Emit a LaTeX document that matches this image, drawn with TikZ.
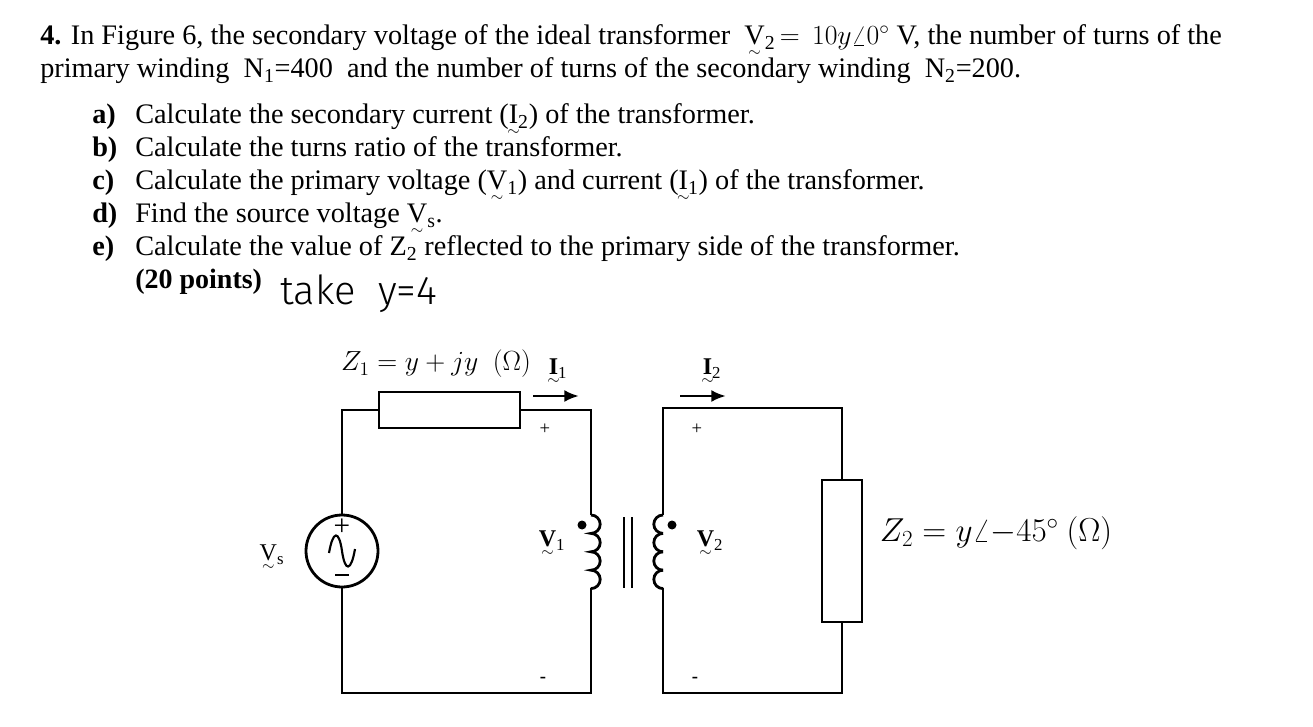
\documentclass[tikz,border=0pt]{standalone}
\usepackage{amsmath}
\usepackage{fontspec}
\usetikzlibrary{arrows.meta}
\setmainfont{Liberation Serif}
\newfontfamily\hand{Fira Sans Light}
\newcommand{\ut}[1]{\setbox0\hbox{#1}\leavevmode\rlap{\hbox to\wd0{\hss\raisebox{-0.42em}{\fontsize{13}{13}\selectfont$\sim$}\hss}}\copy0}
\newcommand{\utb}[1]{\ut{\textbf{#1}}}
\tikzset{
  txt/.style={anchor=base west, inner sep=0pt, font=\fontsize{21.2}{24}\selectfont},
  lbl/.style={inner sep=0pt, font=\fontsize{18}{20}\selectfont},
  wire/.style={line width=2.1pt},
}
\begin{document}
\begin{tikzpicture}[x=0.75pt,y=-0.75pt]
\useasboundingbox (0,0) rectangle (1313,727);
\fill[white] (0,0) rectangle (1313,727);
% text
\node[txt] (l1) at (40,45) {\textbf{4.} In Figure 6, the secondary voltage of the ideal transformer \ \ut{V}\textsubscript{2}$\,=\,10y\angle0^{\circ}$ V, the number of turns of the};
\node[txt] (l2) at (40,78) {primary winding \ N\textsubscript{1}=400 \ and the number of turns of the secondary winding \ N\textsubscript{2}=200.};
\node[txt] (a) at (92,124) {\textbf{a)}};
\node[txt] (at) at (135,124) {Calculate the secondary current (\ut{I}\textsubscript{2}) of the transformer.};
\node[txt] (b) at (92,157) {\textbf{b)}};
\node[txt] (bt) at (135,157) {Calculate the turns ratio of the transformer.};
\node[txt] (c) at (92,190) {\textbf{c)}};
\node[txt] (ct) at (135,190) {Calculate the primary voltage (\ut{V}\textsubscript{1}) and current (\ut{I}\textsubscript{1}) of the transformer.};
\node[txt] (d) at (92,223) {\textbf{d)}};
\node[txt] (dt) at (135,223) {Find the source voltage \ut{V}\textsubscript{s}.};
\node[txt] (e) at (92,256) {\textbf{e)}};
\node[txt] (et) at (135,256) {Calculate the value of Z\textsubscript{2} reflected to the primary side of the transformer.};
\node[txt,font=\fontsize{21}{24}\selectfont] (pts) at (135,288) {\textbf{(20 points)}};
\node[anchor=base west,inner sep=0pt,font=\hand\fontsize{30}{32}\selectfont] (take) at (280,304) {take \ y=4};
% primary circuit
\coordinate (tl) at (342,410); \coordinate (tr) at (591,410);
\coordinate (bl) at (342,693); \coordinate (br) at (591,693);
\node[draw,wire,minimum width=105.75pt,minimum height=27pt,inner sep=0pt] (z1) at (449.5,410) {};
\node[draw,wire,circle,minimum size=54pt,inner sep=0pt] (vs) at (342,551) {};
\draw[wire] (vs.north) -- (tl) -- (z1.west);
\draw[wire] (z1.east) -- (tr) -- (591,515);
\draw[wire] (591,588) -- (br) -- (bl) -- (vs.south);
\draw[line width=1.6pt] (329,553) .. controls (333,530) and (339,530) .. (342,551) .. controls (345,572) and (351,572) .. (355,549);
\node[lbl,font=\fontsize{22}{22}\selectfont] (sp) at (342,527) {+};
\draw[line width=1.4pt] (335,575) -- (349,575);
% primary coil
\draw[wire] (591,515) arc (-90:90:9.2) arc (-90:90:9.2) arc (-90:90:9.2) arc (-90:90:9.2);
\fill (582,525) circle (4.5);
% core
\draw[line width=1.6pt] (624,517) -- (624,588) (632,517) -- (632,588);
% secondary coil
\draw[wire] (663,515) arc (270:90:9.2);
\draw[wire] (663,533.4) arc (270:90:9.2);
\draw[wire] (663,551.8) arc (270:90:9.2);
\draw[wire] (663,570.2) arc (270:90:9.2);
\fill (672,525) circle (4.5);
% secondary circuit
\coordinate (stl) at (663,408); \coordinate (str) at (842,408);
\coordinate (sbl) at (663,693); \coordinate (sbr) at (842,693);
\node[draw,wire,minimum width=30pt,minimum height=106.5pt,inner sep=0pt] (z2) at (842,551) {};
\draw[wire] (663,515) -- (stl) -- (str) -- (z2.north);
\draw[wire] (z2.south) -- (sbr) -- (sbl) -- (663,588);
% arrows
\draw[line width=2pt,-{Latex[length=11pt,width=9pt]}] (533,396) -- (579,396);
\draw[line width=2pt,-{Latex[length=11pt,width=9pt]}] (680,396) -- (726,396);
% labels
\node[inner sep=0pt,font=\fontsize{22}{24}\selectfont] (z1l) at (436,364) {$Z_1 = y + jy\ \ (\Omega)$};
\node[lbl] (i1) at (558,372) {\utb{I}\textsubscript{1}};
\node[lbl] (i2) at (712,372) {\utb{I}\textsubscript{2}};
\node[lbl,font=\fontsize{14}{14}\selectfont] (p1) at (545,429) {+};
\node[lbl,font=\fontsize{14}{14}\selectfont] (p2) at (697,429) {+};
\node[lbl,font=\bfseries\fontsize{14}{14}\selectfont] (m1) at (543,680) {-};
\node[lbl,font=\bfseries\fontsize{14}{14}\selectfont] (m2) at (695,680) {-};
\node[lbl] (v1) at (552,544) {\utb{V}\textsubscript{1}};
\node[lbl] (v2) at (710,544) {\utb{V}\textsubscript{2}};
\node[lbl] (vsl) at (272,558) {\ut{V}\textsubscript{s}};
\node[inner sep=0pt,font=\fontsize{23}{24}\selectfont] (z2l) at (996,533) {$Z_2 = y\angle{-45^{\circ}}\ (\Omega)$};
\end{tikzpicture}
\end{document}
